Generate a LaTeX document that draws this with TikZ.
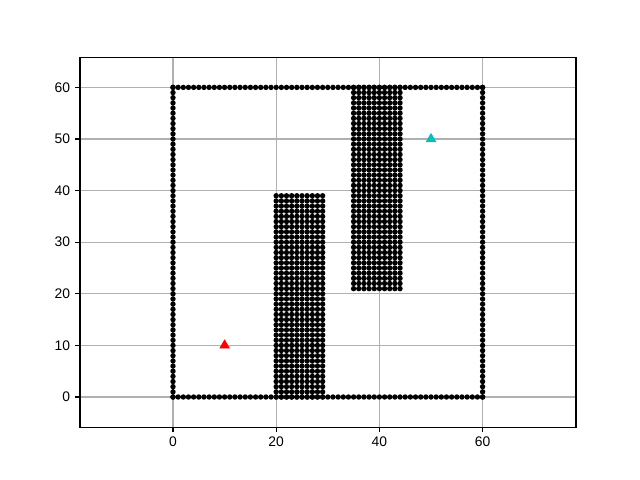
\documentclass[tikz,border=0pt]{standalone}
\usepackage{fontspec}
\setmainfont{Liberation Sans}
\usetikzlibrary{shapes.geometric}

\definecolor{gridgray}{HTML}{B0B0B0}
\definecolor{goalcyan}{rgb}{0,0.75,0.75}

\tikzset{
  obsdot/.style={fill=black},
  gridline/.style={draw=gridgray, line width=0.8pt},
  spine/.style={draw=black, line width=0.8pt},
  tickmark/.style={draw=black, line width=0.8pt},
  ticklabel/.style={font=\fontsize{10}{12}\selectfont, inner sep=0pt},
  marker/.style={regular polygon, regular polygon sides=3, inner sep=0pt,
    minimum size=7.6pt, draw=#1, fill=#1, line width=0.6pt},
}

\begin{document}
\begin{tikzpicture}[x=3.7152pt, y=3.7152pt]
  \useasboundingbox (-33.527,-16.085) rectangle (90.504,76.94);

  %% --- axes frame corners ---
  \coordinate (ll) at (-18.02,-5.85);
  \coordinate (ur) at (78.10,65.78);

  %% grid
  \foreach \x in {0,20,40,60} {
    \draw[gridline] (\x,-5.85) -- (\x,65.78);
  }
  \foreach \y in {0,10,...,60} {
    \draw[gridline] (-18.02,\y) -- (78.10,\y);
  }

  %% map border (0..60)
  \foreach \i in {0,...,60} {
    \fill[obsdot] (\i,0) circle (1.95pt);
    \fill[obsdot] (\i,60) circle (1.95pt);
    \fill[obsdot] (0,\i) circle (1.95pt);
    \fill[obsdot] (60,\i) circle (1.95pt);
  }

  %% obstacle 1: x 20..29, y 0..39
  \foreach \i in {20,...,29} {
    \foreach \j in {0,...,39} {
      \fill[obsdot] (\i,\j) circle (1.95pt);
    }
  }

  %% obstacle 2: x 35..44, y 21..60
  \foreach \i in {35,...,44} {
    \foreach \j in {21,...,60} {
      \fill[obsdot] (\i,\j) circle (1.95pt);
    }
  }

  %% start / goal
  \node[marker=red] (start) at (10,10) {};
  \node[marker=goalcyan] (goal) at (50,50) {};

  %% spines
  \draw[spine] (ll) rectangle (ur);

  %% ticks + labels
  \foreach \x in {0,20,40,60} {
    \draw[tickmark] (\x,-5.85) -- ++(0,-3.5pt);
    \node[ticklabel, anchor=north] (xl\x) at ([yshift=-7pt]\x,-5.85) {\x};
  }
  \foreach \y in {0,10,...,60} {
    \draw[tickmark] (-18.02,\y) -- ++(-3.5pt,0);
    \node[ticklabel, anchor=east] (yl\y) at ([xshift=-7pt]-18.02,\y) {\y};
  }
\end{tikzpicture}
\end{document}
